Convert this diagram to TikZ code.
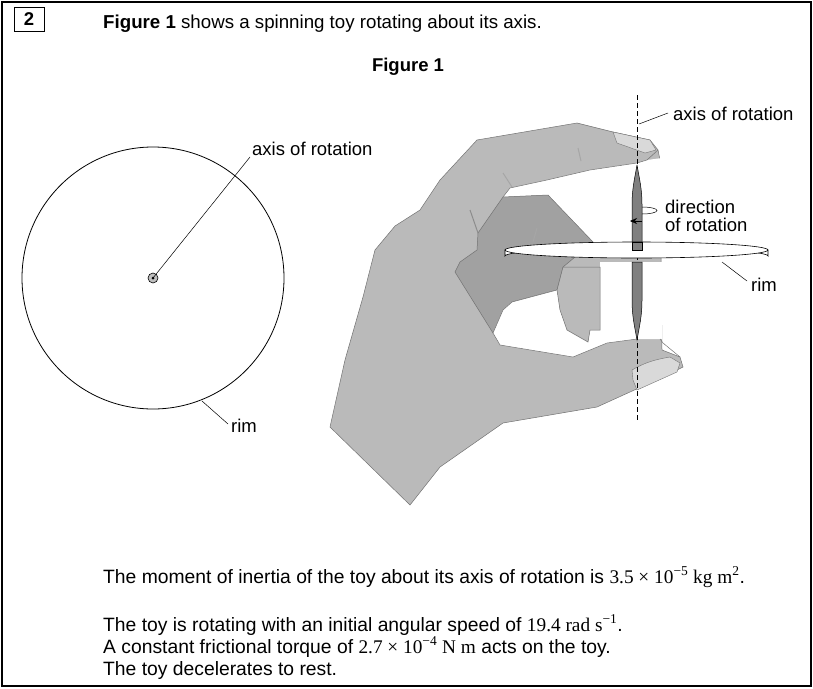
\documentclass[tikz,border=0pt]{standalone}
\usepackage{fontspec}
\usetikzlibrary{arrows.meta}
\setmainfont{Liberation Sans}
\newfontfamily\tnr{Liberation Serif}
\tikzset{
 handfill/.style={fill=black!27,draw=black!55,line width=0.5pt},
 lead/.style={line width=0.5pt},
 lbl/.style={font=\fontsize{18.5}{20}\selectfont,inner sep=0pt},
 body/.style={font=\fontsize{19.3}{21}\selectfont,inner sep=0pt,anchor=base west}
}
\begin{document}
\begin{tikzpicture}[x=1pt,y=-1pt]
\useasboundingbox (0,0) rectangle (813,688);
\draw[line width=2pt] (2,2) rectangle (811,686);
\draw[line width=1pt] (14,7) rectangle (44,31);
\node[lbl,font=\fontsize{18.5}{20}\selectfont\bfseries] (num) at (29,19) {2};
\node[body,font=\fontsize{18.7}{21}\selectfont] (title) at (103,28) {\textbf{Figure 1} shows a spinning toy rotating about its axis.};
\node[lbl,font=\fontsize{18.5}{20}\selectfont\bfseries] (fig) at (408,67) {Figure 1};
% left view
\draw[line width=0.8pt] (153,278) circle (131);
\draw[line width=0.6pt,fill=gray!50] (153,278) circle (5);
\fill (153,278) circle (1.5);
\coordinate (cc) at (153,278);
\coordinate (la) at (250,157);
\draw[lead] (cc) -- (la);
\node[lbl,anchor=west] (lax) at (252,149) {axis of rotation};
\coordinate (r1) at (202,401);
\coordinate (r2) at (228,424);
\draw[lead] (r1) -- (r2);
\node[lbl,anchor=west] (lrim) at (231,426) {rim};
% hand
\path[handfill] (330,427) -- (345,360) -- (363,297) -- (375,250) -- (395,226) -- (420,210) -- (440,180) -- (477,140) -- (577,123) -- (613,132) -- (650,140) -- (658,150) -- (660,160) -- (662,350) -- (680,357) -- (683,367) -- (663,377) -- (597,407) -- (503,423) -- (440,467) -- (410,505) -- cycle;
% gap1
\fill[white] (510,188) -- (547,180) -- (590,170) -- (637,163) -- (647,160) -- (662,158) -- (662,242) -- (593,242) -- (548,195) -- (503,197) -- cycle;
\draw[black!55,line width=0.5pt] (658,150) -- (647,160) -- (637,163) -- (590,170) -- (547,180) -- (510,188) -- (503,197);
% dark finger
\path[fill=black!37,draw=black!55,line width=0.5pt] (478,233) -- (503,197) -- (548,195) -- (593,242) -- (563,267) -- (557,290) -- (512,302) -- (493,333) -- (455,272) -- (460,262) -- (477,250) -- cycle;
% gap2
\fill[white] (600,262) -- (662,262) -- (662,339) -- (637,339) -- (607,343) -- (573,357) -- (500,345) -- (493,333) -- (503,310) -- (512,302) -- (557,290) -- (560,310) -- (567,330) -- (588,342) -- (590,330) -- (600,330) -- cycle;
\draw[black!55,line width=0.5pt] (637,339) -- (607,343) -- (573,357) -- (500,345) -- (493,333) -- (503,310) -- (512,302) -- (557,290);
\draw[black!55,line width=0.5pt] (660,339) -- (663,343) -- (680,357);
% lighter finger part below disk
\path[handfill] (563,267) -- (600,267) -- (600,330) -- (590,330) -- (588,342) -- (567,330) -- (560,310) -- (557,290) -- cycle;
% knuckle lines
\draw[black!35,line width=1pt] (578,148) -- (581,161);
\draw[black!35,line width=1pt] (503,173) -- (512,187);
\draw[black!35,line width=1pt] (537,228) -- (533,242);
\draw[black!45,line width=1pt] (470,210) -- (478,233);
% nails
\path[fill=black!15,draw=black!55,line width=0.4pt] (613,132) -- (650,140) -- (656,150) -- (645,153) -- (617,143) -- cycle;
\path[fill=black!15,draw=black!55,line width=0.4pt] (632,370) to[out=30,in=190] (670,357) -- (680,363) -- (677,372) -- (637,390) -- (633,380) -- cycle;
% axis
\coordinate (at) at (637,95);
\coordinate (ab) at (637,422);
\draw[line width=0.5pt,dash pattern=on 5pt off 3pt] (at) -- (ab);
% pin
\path[fill=black!50,draw=black,line width=0.5pt] (637,165) to[out=-80,in=90] (642,205) -- (642,252) -- (632,252) -- (632,205) to[out=90,in=-100] (637,165);
\path[fill=black!50,draw=black,line width=0.5pt] (632,262) -- (642,262) -- (642,300) to[out=-90,in=80] (637,340) to[out=100,in=-90] (632,300) -- cycle;
% disk
\path[fill=white,draw=black,line width=0.6pt] (505,250) -- (505,256) arc[start angle=180,end angle=360,x radius=131.5,y radius=8] -- (768,250) -- cycle;
\draw[fill=white,line width=0.6pt] (636.5,250) ellipse[x radius=131.5,y radius=8];
\draw[fill=black!50,draw=black,line width=0.5pt] (632,242) rectangle (642,250);
% direction arrow
\draw[line width=0.5pt] (642,214) arc[start angle=90,end angle=-90,x radius=15,y radius=3.5];
\draw[line width=0.5pt,-{Stealth[length=7pt,width=6pt]}] (642,221) -- (630,221);
\node[lbl,anchor=base west] (dir1) at (665,213) {direction};
\node[lbl,anchor=base west] (dir2) at (665,231) {of rotation};
% labels
\coordinate (a1) at (639,124);
\coordinate (a2) at (668,113);
\draw[lead] (a1) -- (a2);
\node[lbl,anchor=west] (rax) at (673,114) {axis of rotation};
\coordinate (m1) at (722,262);
\coordinate (m2) at (747,281);
\draw[lead] (m1) -- (m2);
\node[lbl,anchor=west] (rrim) at (751,285) {rim};
% text
\node[body] (t1) at (103,583) {The moment of inertia of the toy about its axis of rotation is {\tnr 3.5 × 10\textsuperscript{−5} kg m\textsuperscript{2}}.};
\node[body] (t2) at (103,631) {The toy is rotating with an initial angular speed of {\tnr 19.4 rad s\textsuperscript{−1}}.};
\node[body] (t3) at (103,653) {A constant frictional torque of {\tnr 2.7 × 10\textsuperscript{−4} N m} acts on the toy.};
\node[body] (t4) at (103,675) {The toy decelerates to rest.};
\end{tikzpicture}
\end{document}
